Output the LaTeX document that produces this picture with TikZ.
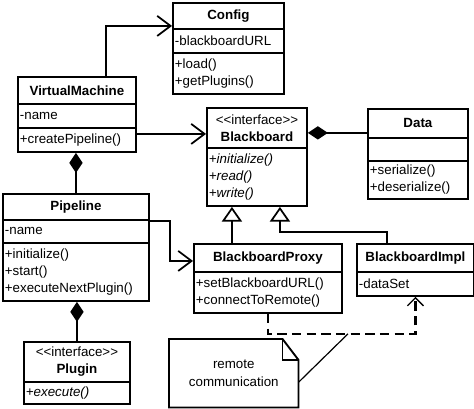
\documentclass[tikz,border=0pt]{standalone}
\usepackage{fontspec}
\setmainfont{Liberation Sans}
\usetikzlibrary{arrows.meta}
\newcommand{\stereotype}[1]{<\kern0pt<#1>\kern0pt>}

\begin{document}
\fontsize{10}{12.8}\selectfont
\begin{tikzpicture}[x=0.75pt,y=-0.75pt,
		head/.style 2 args={draw,anchor=north west,text width=#1,minimum height=#2,align=center,inner xsep=1.5pt,inner ysep=0pt,font=\bfseries},
		member/.style 2 args={draw,anchor=north west,text width=#1,minimum height=#2,align=left,inner xsep=1.5pt,inner ysep=0pt},
		assoc/.style={line width=1.3pt,-{Straight Barb[length=10pt,width=15pt]}},
		compos/.style={line width=1.3pt,-{Diamond[length=15pt,width=10pt]}},
		inherit/.style={line width=1.3pt,-{Triangle[open,length=11pt,width=15pt]}},
		depend/.style={line width=2pt,dash pattern=on 7pt off 4pt,-{Straight Barb[length=6pt,width=12pt,line width=1pt]}}]
		\useasboundingbox (0,0) rectangle (474,408);
		\draw[line width=1.4pt]
		node[head={80.25pt}{19.5pt}] (cfg) at (172,2) {Config}
		node[member={80.25pt}{18pt}] (cfga) at (172,28) {-blackboardURL}
		node[member={80.25pt}{30.75pt}] (cfgo) at (172,52) {+load()\\+getPlugins()}
		node[head={85.5pt}{20.25pt}] (vm) at (17,76) {VirtualMachine}
		node[member={85.5pt}{18pt}] (vma) at (17,103) {-name}
		node[member={85.5pt}{18pt}] (vmo) at (17,127) {+createPipeline()}
		node[head={72pt}{30pt}] (bb) at (206,107) {{\mdseries\stereotype{interface}}\\Blackboard}
		node[member={72pt}{43.5pt}] (bbo) at (206,147) {\itshape +initialize()\\+read()\\+write()}
		node[head={72pt}{21.75pt}] (data) at (367,108) {Data}
		node[member={72pt}{17.25pt}] (dataa) at (367,137) {}
		node[member={72pt}{28.5pt}] (datao) at (367,160) {+serialize()\\+deserialize()}
		node[head={106.5pt}{19.5pt}] (pl) at (2,193) {Pipeline}
		node[member={106.5pt}{17.25pt}] (pla) at (2,219) {-name}
		node[member={106.5pt}{43.5pt}] (plo) at (2,242) {+initialize()\\+start()\\+executeNextPlugin()}
		node[head={108pt}{21pt}] (bp) at (193,243) {BlackboardProxy}
		node[member={108pt}{30.75pt}] (bpo) at (193,271) {+setBlackboardURL()\\+connectToRemote()}
		node[head={84.75pt}{21pt}] (bi) at (356,243) {BlackboardImpl}
		node[member={84.75pt}{18pt}] (bia) at (356,271) {-dataSet}
		node[head={76.5pt}{30pt}] (plg) at (23,341) {{\mdseries\stereotype{interface}}\\Plugin}
		node[member={76.5pt}{16.5pt}] (plgo) at (23,381) {\itshape +execute()};
		% note
		\node[minimum width=96.75pt,minimum height=51pt,align=center,anchor=north west,inner sep=0pt] (note) at (169,339) {remote\\communication};
		\draw[line width=1.4pt] (note.north west) -- ([xshift=-12pt]note.north east) -- ([yshift=-15.75pt]note.north east) -- (note.south east) -- (note.south west) -- cycle;
		\draw[line width=1.4pt] ([xshift=-12pt]note.north east) |- ([yshift=-15.75pt]note.north east);
		% associations
		\draw[assoc] ([xshift=21.75pt]vm.north) |- ([yshift=-7.5pt]cfg.west);
		\draw[assoc] ([yshift=4.5pt]vmo.east) -- ([yshift=4.5pt]vmo.east -| bb.west);
		\draw[assoc] (pl.south east) -- ++(20,0) |- ([yshift=-2.25pt]bp.west);
		% compositions
		\draw[compos] ([yshift=-7.1pt]data.west) -- ([yshift=-7.1pt]data.west -| bb.east);
		\draw[compos] (pl.north) -- (pl.north |- vmo.south);
		\draw[compos] (plg.north) -- (plg.north |- plo.south);
		% generalizations
		\draw[inherit] ([xshift=-27pt]bp.north) -- ([xshift=-27pt]bp.north |- bbo.south);
		\draw[inherit] ([xshift=-21.4pt]bi.north) -- ++(0,-11) -| ([xshift=17.25pt]bbo.south);
		% remote dependency
		\draw[depend] (bpo.south) -- ++(0,20) coordinate (bend) -| (bia.south);
		\coordinate (notelink) at ([xshift=60pt]bend);
		\draw[line width=0.9pt] ([yshift=-6.75pt]note.east) -- (notelink);
\end{tikzpicture}
\end{document}
